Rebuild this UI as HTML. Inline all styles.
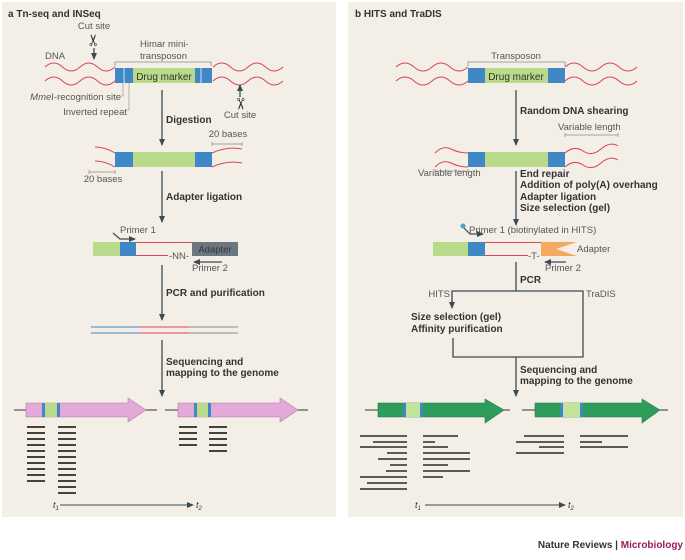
<!DOCTYPE html>
<html><head><meta charset="utf-8"><style>
body{margin:0;background:#fff;width:685px;height:555px;overflow:hidden}
text{font-family:"Liberation Sans",sans-serif;fill:#333}
.b{font-weight:bold;font-size:10px}
.n{font-size:9.5px;fill:#555}
</style></head><body>
<svg width="685" height="555" viewBox="0 0 685 555">
<defs>
<marker id="ah" markerWidth="8" markerHeight="8" refX="6" refY="4" orient="auto" markerUnits="userSpaceOnUse"><path d="M0,1 L7,4 L0,7 Z" fill="#3c4a55"/></marker>
</defs>
<rect x="2" y="2" width="334" height="515" fill="#f4efe6"/>
<rect x="348" y="2" width="335" height="515" fill="#f4efe6"/>

<!-- PANEL A -->
<text x="8" y="17" class="b">a Tn-seq and INSeq</text>
<text x="94" y="29" class="n" text-anchor="middle">Cut site</text>
<text x="94" y="45" font-size="16" text-anchor="middle" fill="#222" transform="rotate(-90 94 40)">✂</text>
<line x1="94" y1="48" x2="94" y2="59" stroke="#3c4a55" stroke-width="1.3" marker-end="url(#ah)"/>
<text x="45" y="59" class="n">DNA</text>
<text x="140" y="47" class="n">Himar mini-</text>
<text x="140" y="59" class="n">transposon</text>
<path d="M115 66 V62 H211 V66" fill="none" stroke="#888" stroke-width="0.8"/>
<g fill="none" stroke="#d9445a" stroke-width="1">
<path d="M45 67 q8.75 -8 17.5 0 t17.5 0 t17.5 0 t17.5 0"/>
<path d="M45 81 q8.75 -8 17.5 0 t17.5 0 t17.5 0 t17.5 0"/>
<path d="M213 67 q8.75 -8 17.5 0 t17.5 0 t17.5 0 t17.5 0"/>
<path d="M213 81 q8.75 -8 17.5 0 t17.5 0 t17.5 0 t17.5 0"/>
</g>
<rect x="115" y="68" width="18" height="15" fill="#3f87c5"/>
<rect x="133" y="68" width="62" height="15" fill="#b9da8a"/>
<rect x="195" y="68" width="17" height="15" fill="#3f87c5"/>
<line x1="124" y1="68" x2="124" y2="83" stroke="#cfe6f5" stroke-width="1"/>
<line x1="201" y1="68" x2="201" y2="83" stroke="#cfe6f5" stroke-width="1"/>
<text x="164" y="80" font-size="10" text-anchor="middle" fill="#444">Drug marker</text>
<text x="121" y="100" class="n" text-anchor="end"><tspan font-style="italic">Mme</tspan>I-recognition site</text>
<text x="127" y="115" class="n" text-anchor="end">Inverted repeat</text>
<path d="M121 96 H123 V83 M127 110 H129 V83" fill="none" stroke="#888" stroke-width="0.6"/>
<line x1="240" y1="97" x2="240" y2="85" stroke="#3c4a55" stroke-width="1.3" marker-end="url(#ah)"/>
<text x="240" y="109" font-size="16" text-anchor="middle" fill="#222" transform="rotate(90 240 104)">✂</text>
<text x="240" y="118" class="n" text-anchor="middle">Cut site</text>
<line x1="162" y1="90" x2="162" y2="145" stroke="#3c4a55" stroke-width="1.3" marker-end="url(#ah)"/>
<text x="166" y="123" class="b">Digestion</text>
<text x="228" y="137" class="n" text-anchor="middle">20 bases</text>
<path d="M212 142 V146 M212 144 H242 M242 142 V146" stroke="#888" stroke-width="0.7" fill="none"/>
<g fill="none" stroke="#d9445a" stroke-width="1">
<path d="M95 147 q10 0 20 6"/><path d="M95 161 q10 0 20 6"/>
<path d="M212 153 q15 -7 30 -4"/><path d="M212 167 q15 -7 30 -4"/>
</g>
<rect x="115" y="152" width="18" height="15" fill="#3f87c5"/>
<rect x="133" y="152" width="62" height="15" fill="#b9da8a"/>
<rect x="195" y="152" width="17" height="15" fill="#3f87c5"/>
<path d="M89 170 V174 M89 172 H115 M115 170 V174" stroke="#888" stroke-width="0.7" fill="none"/>
<text x="103" y="182" class="n" text-anchor="middle">20 bases</text>
<line x1="162" y1="171" x2="162" y2="222" stroke="#3c4a55" stroke-width="1.3" marker-end="url(#ah)"/>
<text x="166" y="200" class="b">Adapter ligation</text>
<text x="120" y="233" class="n">Primer 1</text>
<path d="M113 233 L120 239 H135" fill="none" stroke="#3c4a55" stroke-width="1.2" marker-end="url(#ah)"/>
<rect x="93" y="242" width="27" height="14" fill="#b9da8a"/>
<rect x="120" y="242" width="16" height="14" fill="#3f87c5"/>
<line x1="136" y1="242.5" x2="192" y2="242.5" stroke="#d9445a"/>
<line x1="136" y1="255.5" x2="168" y2="255.5" stroke="#d9445a"/>
<rect x="192" y="242" width="46" height="14" fill="#6b7780"/>
<text x="215" y="252.5" font-size="9.5" fill="#fff" text-anchor="middle">Adapter</text>
<text x="169" y="259" class="n">-NN-</text>
<line x1="222" y1="262" x2="194" y2="262" stroke="#3c4a55" stroke-width="1.3" marker-end="url(#ah)"/>
<text x="192" y="271" class="n">Primer 2</text>
<line x1="162" y1="265" x2="162" y2="320" stroke="#3c4a55" stroke-width="1.3" marker-end="url(#ah)"/>
<text x="166" y="296" class="b">PCR and purification</text>
<g stroke-width="1">
<line x1="91" y1="327" x2="140" y2="327" stroke="#3f87c5"/><line x1="91" y1="333" x2="140" y2="333" stroke="#3f87c5"/>
<line x1="140" y1="327" x2="189" y2="327" stroke="#d9445a"/><line x1="140" y1="333" x2="189" y2="333" stroke="#d9445a"/>
<line x1="189" y1="327" x2="238" y2="327" stroke="#888"/><line x1="189" y1="333" x2="238" y2="333" stroke="#888"/>
</g>
<line x1="162" y1="340" x2="162" y2="396" stroke="#3c4a55" stroke-width="1.3" marker-end="url(#ah)"/>
<text x="166" y="365" class="b">Sequencing and</text>
<text x="166" y="376" class="b">mapping to the genome</text>
<line x1="14" y1="410" x2="157" y2="410" stroke="#333"/>
<line x1="165" y1="410" x2="308" y2="410" stroke="#333"/>
<path d="M26 403 H128 V398 L146 410 L128 422 V417 H26 Z" fill="#e3a9d8" stroke="#b079a5" stroke-width="0.6"/>
<path d="M178 403 H280 V398 L298 410 L280 422 V417 H178 Z" fill="#e3a9d8" stroke="#b079a5" stroke-width="0.6"/>
<rect x="42" y="403" width="18" height="14" fill="#b9da8a"/><rect x="42" y="403" width="3" height="14" fill="#3f87c5"/><rect x="57" y="403" width="3" height="14" fill="#3f87c5"/>
<rect x="194" y="403" width="17" height="14" fill="#b9da8a"/><rect x="194" y="403" width="3" height="14" fill="#3f87c5"/><rect x="208" y="403" width="3" height="14" fill="#3f87c5"/>
<g stroke="#2a2a2a" stroke-width="1.7">
<path d="M27 427H45M27 433H45M27 439H45M27 445H45M27 451H45M27 457H45M27 463H45M27 469H45M27 475H45M27 481H45"/>
<path d="M58 427H76M58 433H76M58 439H76M58 445H76M58 451H76M58 457H76M58 463H76M58 469H76M58 475H76M58 481H76M58 487H76M58 493H76"/>
<path d="M179 427H197M179 433H197M179 439H197M179 445H197"/>
<path d="M209 427H227M209 433H227M209 439H227M209 445H227M209 451H227"/>
</g>
<text x="53" y="508" font-size="9" font-style="italic" fill="#555">t<tspan font-size="6" dy="2">1</tspan></text>
<line x1="60" y1="505" x2="193" y2="505" stroke="#3c4a55" stroke-width="1" marker-end="url(#ah)"/>
<text x="196" y="508" font-size="9" font-style="italic" fill="#555">t<tspan font-size="6" dy="2">2</tspan></text>

<!-- PANEL B -->
<text x="355" y="17" class="b">b  HITS and TraDIS</text>
<text x="516" y="59" class="n" text-anchor="middle">Transposon</text>
<path d="M468 66 V62 H565 V66" fill="none" stroke="#888" stroke-width="0.8"/>
<g fill="none" stroke="#d9445a" stroke-width="1">
<path d="M396 67 q9 -8 18 0 t18 0 t18 0 t18 0"/>
<path d="M396 81 q9 -8 18 0 t18 0 t18 0 t18 0"/>
<path d="M565 67 q9 -8 18 0 t18 0 t18 0 t18 0"/>
<path d="M565 81 q9 -8 18 0 t18 0 t18 0 t18 0"/>
</g>
<rect x="468" y="68" width="17" height="15" fill="#3f87c5"/>
<rect x="485" y="68" width="63" height="15" fill="#b9da8a"/>
<rect x="548" y="68" width="17" height="15" fill="#3f87c5"/>
<text x="516" y="80" font-size="10" text-anchor="middle" fill="#444">Drug marker</text>
<line x1="516" y1="90" x2="516" y2="145" stroke="#3c4a55" stroke-width="1.3" marker-end="url(#ah)"/>
<text x="520" y="114" class="b">Random DNA shearing</text>
<text x="558" y="130" class="n">Variable length</text>
<path d="M565 133 V137 M565 135 H618 M618 133 V137" stroke="#888" stroke-width="0.7" fill="none"/>
<g fill="none" stroke="#d9445a" stroke-width="1">
<path d="M435 153 q8 -8 16 -4 t17 4"/><path d="M435 167 q8 -8 16 -4 t17 4"/>
<path d="M565 153 q9 -8 18 -2 t18 -2 t17 -3"/><path d="M565 167 q9 -8 18 -2 t18 -2 t17 -3"/>
</g>
<rect x="468" y="152" width="17" height="15" fill="#3f87c5"/>
<rect x="485" y="152" width="63" height="15" fill="#b9da8a"/>
<rect x="548" y="152" width="17" height="15" fill="#3f87c5"/>
<path d="M435 169 V173 M435 171 H468 M468 169 V173" stroke="#888" stroke-width="0.7" fill="none"/>
<text x="418" y="176" class="n">Variable length</text>
<line x1="516" y1="171" x2="516" y2="225" stroke="#3c4a55" stroke-width="1.3" marker-end="url(#ah)"/>
<text x="520" y="177" class="b">End repair</text>
<text x="520" y="188" class="b">Addition of poly(A) overhang</text>
<text x="520" y="200" class="b">Adapter ligation</text>
<text x="520" y="211" class="b">Size selection (gel)</text>
<circle cx="463" cy="226" r="2.5" fill="#4aa3c8"/>
<path d="M464 228 L470 234 H483" fill="none" stroke="#3c4a55" stroke-width="1.2" marker-end="url(#ah)"/>
<text x="469" y="233" class="n">Primer 1 (biotinylated in HITS)</text>
<rect x="433" y="242" width="35" height="14" fill="#b9da8a"/>
<rect x="468" y="242" width="17" height="14" fill="#3f87c5"/>
<line x1="485" y1="242.5" x2="541" y2="242.5" stroke="#d9445a"/>
<line x1="485" y1="255.5" x2="528" y2="255.5" stroke="#d9445a"/>
<path d="M541 242 H577 L556 249 L577 256 H541 Z" fill="#f5a95e"/>
<text x="577" y="252" class="n">Adapter</text>
<text x="528" y="259" class="n">-T-</text>
<line x1="566" y1="262" x2="545" y2="262" stroke="#3c4a55" stroke-width="1.3" marker-end="url(#ah)"/>
<text x="545" y="271" class="n">Primer 2</text>
<line x1="516" y1="262" x2="516" y2="291" stroke="#3c4a55" stroke-width="1.3"/>
<text x="520" y="283" class="b">PCR</text>
<path d="M452 306 V291 H583 V357 H453 V338" fill="none" stroke="#3c4a55" stroke-width="1.3"/>
<line x1="452" y1="300" x2="452" y2="308" stroke="#3c4a55" stroke-width="1.3" marker-end="url(#ah)"/>
<text x="450" y="297" class="n" text-anchor="end">HITS</text>
<text x="586" y="297" class="n">TraDIS</text>
<text x="411" y="320" class="b">Size selection (gel)</text>
<text x="411" y="332" class="b">Affinity purification</text>
<line x1="516" y1="357" x2="516" y2="396" stroke="#3c4a55" stroke-width="1.3" marker-end="url(#ah)"/>
<text x="520" y="373" class="b">Sequencing and</text>
<text x="520" y="384" class="b">mapping to the genome</text>
<line x1="365" y1="410" x2="510" y2="410" stroke="#333"/>
<line x1="522" y1="410" x2="668" y2="410" stroke="#333"/>
<path d="M378 403 H485 V399 L504 410 L485 423 V417 H378 Z" fill="#2e9c5a" stroke="#1f7a44" stroke-width="0.6"/>
<path d="M535 403 H642 V399 L660 410 L642 423 V417 H535 Z" fill="#2e9c5a" stroke="#1f7a44" stroke-width="0.6"/>
<rect x="403" y="403" width="20" height="14" fill="#c4e39a"/><rect x="403" y="403" width="3" height="14" fill="#3f87c5"/><rect x="420" y="403" width="3" height="14" fill="#3f87c5"/>
<rect x="560" y="403" width="23" height="14" fill="#c4e39a"/><rect x="560" y="403" width="3" height="14" fill="#3f87c5"/><rect x="580" y="403" width="3" height="14" fill="#3f87c5"/>
<g stroke="#2a2a2a" stroke-width="1.6">
<path d="M360 436H407M373 442H407M360 447H407M387 453H407M378 459H407M390 465H407M386 471H407M360 477H407M367 483H407M360 489H407"/>
<path d="M423 436H458M423 442H435M423 447H448M423 453H470M423 459H470M423 465H448M423 471H470M423 477H443"/>
<path d="M524 436H564M516 442H564M539 447H564M516 453H564"/>
<path d="M580 436H628M580 442H602M580 447H628"/>
</g>
<text x="415" y="508" font-size="9" font-style="italic" fill="#555">t<tspan font-size="6" dy="2">1</tspan></text>
<line x1="425" y1="505" x2="565" y2="505" stroke="#3c4a55" stroke-width="1" marker-end="url(#ah)"/>
<text x="568" y="508" font-size="9" font-style="italic" fill="#555">t<tspan font-size="6" dy="2">2</tspan></text>

<text x="683" y="548" font-size="10" font-weight="bold" text-anchor="end"><tspan fill="#333">Nature Reviews | </tspan><tspan fill="#9b1b5a">Microbiology</tspan></text>
</svg>
</body></html>
